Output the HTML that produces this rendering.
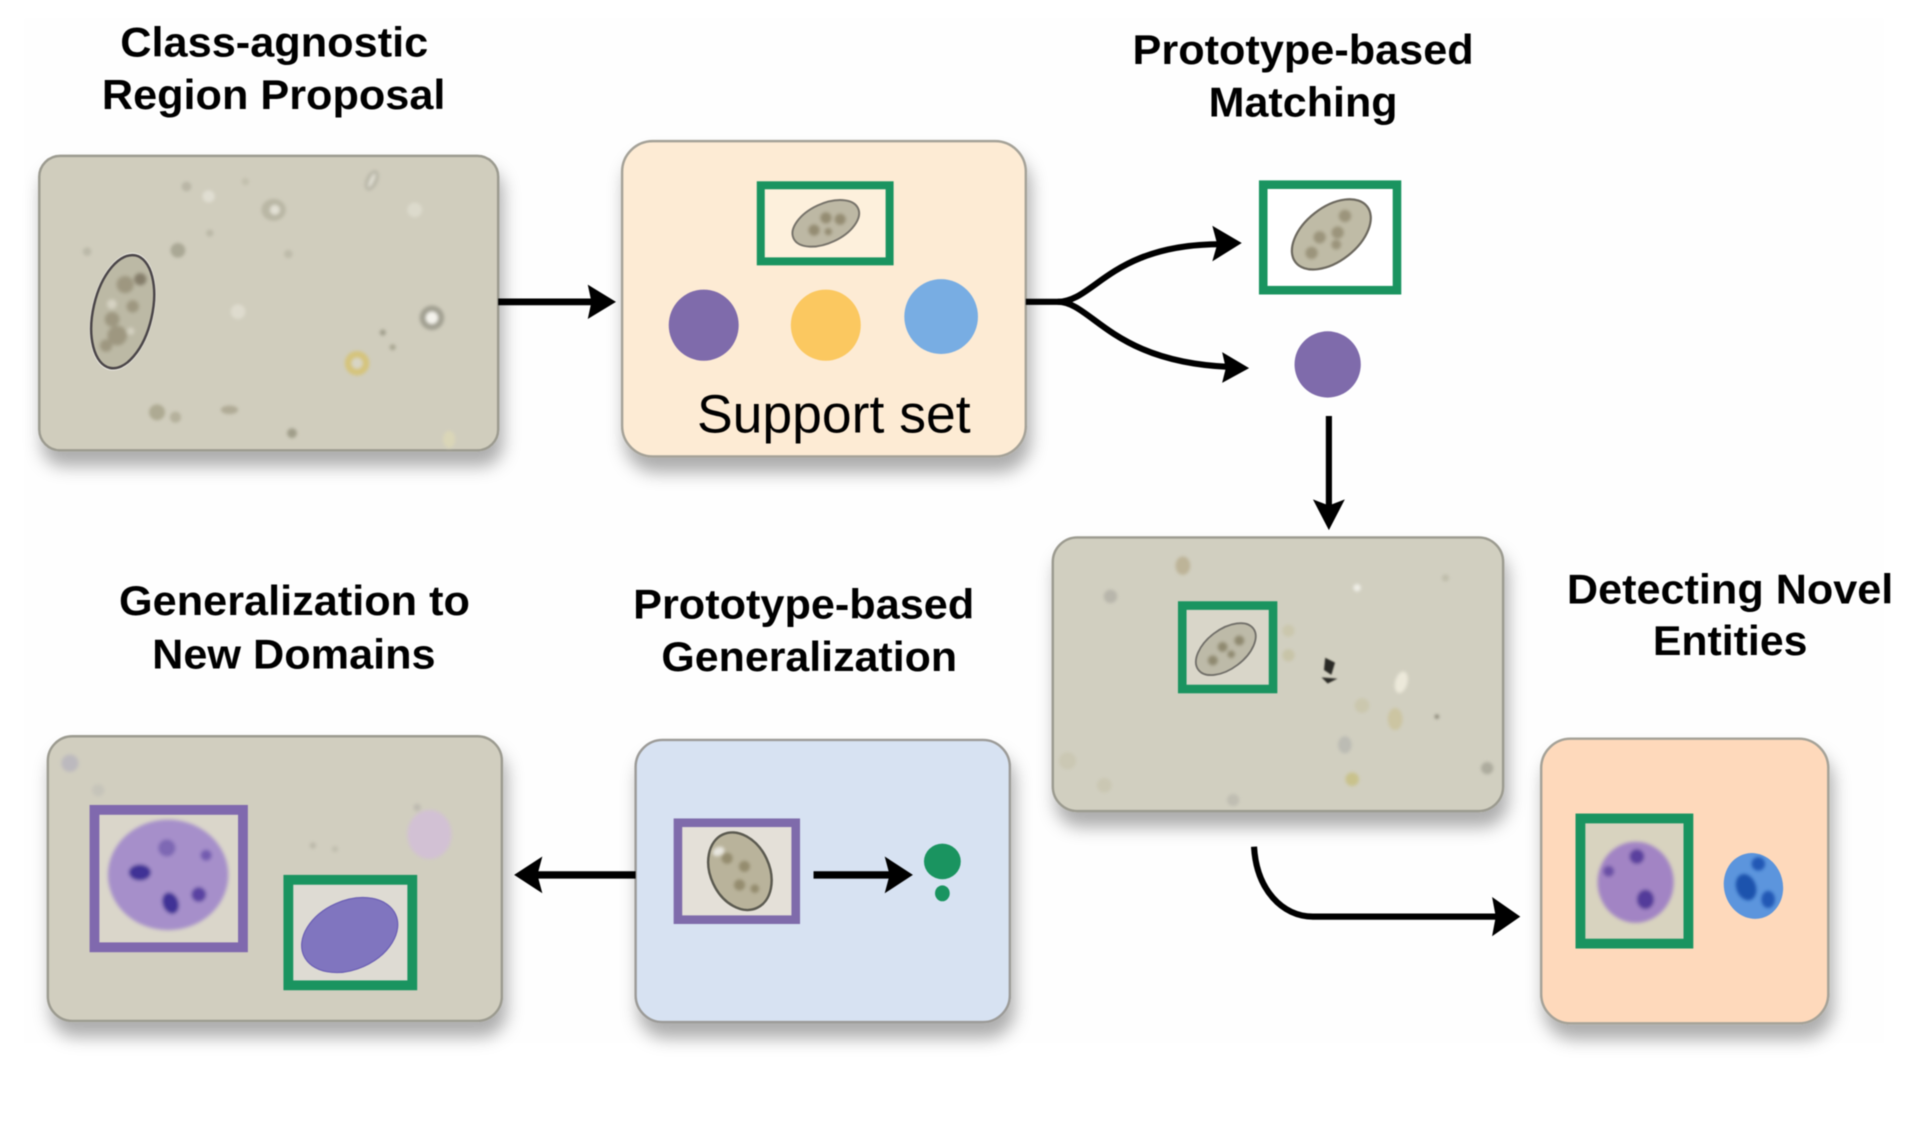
<!DOCTYPE html>
<html>
<head>
<meta charset="utf-8">
<style>
html,body{margin:0;padding:0;background:#fff;width:1924px;height:1124px;overflow:hidden}
svg{display:block;filter:blur(.5px)}
text{font-family:"Liberation Sans",sans-serif;fill:#000}
.t{font-weight:bold;font-size:34px}
</style>
</head>
<body>
<svg width="1924" height="1124" viewBox="0 0 1568 916" xmlns="http://www.w3.org/2000/svg" preserveAspectRatio="none">
<defs>
<filter id="sh" x="-10%" y="-10%" width="125%" height="125%"><feDropShadow dx="3" dy="12" stdDeviation="7" flood-color="#000" flood-opacity=".32"/></filter>
<filter id="b1" x="-50%" y="-50%" width="200%" height="200%"><feGaussianBlur stdDeviation="1.300"/></filter>
<filter id="b2" x="-50%" y="-50%" width="200%" height="200%"><feGaussianBlur stdDeviation="1.500"/></filter>
<filter id="b3" x="-50%" y="-50%" width="200%" height="200%"><feGaussianBlur stdDeviation=".6"/></filter>
</defs>
<rect width="1568" height="916" fill="#fff"/>
<rect x="20" y="15" width="1515" height="835" fill="#fefefe"/>

<!-- Titles -->
<g class="t">
<text class="t" x="98" y="46" textLength="251" lengthAdjust="spacingAndGlyphs">Class-agnostic</text>
<text class="t" x="83" y="89" textLength="280" lengthAdjust="spacingAndGlyphs">Region Proposal</text>
<text class="t" x="923" y="52" textLength="278" lengthAdjust="spacingAndGlyphs">Prototype-based</text>
<text class="t" x="985" y="95" textLength="154" lengthAdjust="spacingAndGlyphs">Matching</text>
<text class="t" x="97" y="501" textLength="286" lengthAdjust="spacingAndGlyphs">Generalization to</text>
<text class="t" x="124" y="545" textLength="231" lengthAdjust="spacingAndGlyphs">New Domains</text>
<text class="t" x="516" y="504" textLength="278" lengthAdjust="spacingAndGlyphs">Prototype-based</text>
<text class="t" x="539" y="547" textLength="241" lengthAdjust="spacingAndGlyphs">Generalization</text>
<text class="t" x="1277" y="492" textLength="266" lengthAdjust="spacingAndGlyphs">Detecting Novel</text>
<text class="t" x="1347" y="534" textLength="126" lengthAdjust="spacingAndGlyphs">Entities</text>
</g>

<!-- Panel 1 -->
<rect x="32" y="127" width="374" height="240" rx="17" fill="#d0cdbd" stroke="#9c9b90" stroke-width="2" filter="url(#sh)"/>
<g filter="url(#b1)">
<circle cx="145" cy="204" r="6" fill="#aaa895"/>
<ellipse cx="223" cy="171" rx="10" ry="9" fill="#bab7a5"/><circle cx="224" cy="171" r="4" fill="#e2e0d4"/>
<circle cx="352" cy="259" r="10" fill="#a3a193"/><circle cx="352" cy="259" r="5" fill="#f4f3ec"/>
<circle cx="291" cy="296" r="10" fill="#d5c47d"/><circle cx="291" cy="296" r="4.500" fill="#d8d5c4"/>
<ellipse cx="303" cy="147" rx="5" ry="9" transform="rotate(25 303 147)" fill="#bbb9aa"/>
<ellipse cx="303" cy="147" rx="1.500" ry="6" transform="rotate(25 303 147)" fill="#e3e1d6"/>
<circle cx="128" cy="336" r="6.500" fill="#aeaa93"/><circle cx="143" cy="340" r="4.500" fill="#b5b19c"/>
<ellipse cx="187" cy="334" rx="7" ry="3.500" fill="#b0ab96"/>
<circle cx="238" cy="353" r="4" fill="#a09e8a"/><ellipse cx="366" cy="358" rx="5" ry="7" fill="#dad6b8"/>
<circle cx="171" cy="190" r="3" fill="#bcb9a8"/><circle cx="152" cy="152" r="4" fill="#b9b6a6"/>
<circle cx="71" cy="205" r="3.500" fill="#bbb9a9"/><circle cx="194" cy="254" r="6" fill="#dedbce"/>
<circle cx="312" cy="271" r="2.500" fill="#a09e8c"/><circle cx="320" cy="283" r="2.500" fill="#a8a692"/>
<circle cx="235" cy="207" r="3.500" fill="#bebbaa"/><circle cx="338" cy="171" r="6" fill="#dcdacc"/>
<circle cx="170" cy="160" r="5" fill="#e0ded2"/><circle cx="200" cy="148" r="3" fill="#c3c0ae"/>
</g>
<g transform="rotate(13 100 254)">
<ellipse cx="100" cy="254" rx="25.500" ry="49" fill="#e8e6de"/>
<ellipse cx="100" cy="254" rx="24" ry="47" fill="#bcb9a5" stroke="#4a4548" stroke-width="2"/>
<g filter="url(#b2)" fill="#99927a" opacity=".85">
<circle cx="108" cy="225" r="5" fill="#7b7360"/><circle cx="97" cy="232" r="7"/><circle cx="107" cy="248" r="5"/><circle cx="90" cy="250" r="4" fill="#dad7c8"/><circle cx="93" cy="262" r="6"/><circle cx="100" cy="274" r="8"/><circle cx="110" cy="268" r="3" fill="#d8d5c6"/><circle cx="93" cy="284" r="5"/>
</g>
</g>

<!-- Panel 2 -->
<rect x="507" y="115" width="329" height="257" rx="25" fill="#fdebd4" stroke="#a5a298" stroke-width="2" filter="url(#sh)"/>
<rect x="620" y="151" width="105" height="62" fill="#fdf0dc" stroke="#1a9460" stroke-width="6.500"/>
<g transform="rotate(-25 673 182)">
<ellipse cx="673" cy="182" rx="29" ry="16" fill="#bdb8a4" stroke="#77736a" stroke-width="1.600"/>
<g filter="url(#b1)" fill="#948c72"><circle cx="662" cy="183" r="4.500"/><circle cx="675" cy="178" r="4.500"/><circle cx="685" cy="184" r="4.500"/><circle cx="672" cy="189" r="3"/></g>
</g>
<ellipse cx="573.500" cy="265" rx="28.500" ry="29" fill="#7f6bab"/>
<ellipse cx="673" cy="265" rx="28.500" ry="29" fill="#fbc860"/>
<ellipse cx="767" cy="258" rx="30" ry="30.500" fill="#78ade3"/>
<text x="568" y="352.500" font-size="44" textLength="223" lengthAdjust="spacingAndGlyphs">Support set</text>

<!-- Arrow 1 -->
<path d="M406 246H485" stroke="#000" stroke-width="5.500" fill="none"/>
<path d="M502 246L479 232L482 246L479 260Z" fill="#000"/>

<!-- Fork -->
<path d="M836 246H862C892 246 905 199 995 199" stroke="#000" stroke-width="5" fill="none"/>
<path d="M1012 198L988 184L992 199L988 213Z" fill="#000"/>
<path d="M862 246C890 246 905 295 1002 299" stroke="#000" stroke-width="5" fill="none"/>
<path d="M1018 300L996 287L999 300L996 312Z" fill="#000"/>

<!-- Top right result -->
<rect x="1029.500" y="150.500" width="109" height="86" fill="#fff" stroke="#1a9460" stroke-width="7"/>
<g transform="rotate(-38 1085 191)">
<ellipse cx="1085" cy="191" rx="37" ry="22" fill="#bfbba6" stroke="#6d695f" stroke-width="1.800"/>
<g filter="url(#b1)" fill="#9b947b"><circle cx="1063" cy="193" r="5"/><circle cx="1076" cy="187" r="5"/><circle cx="1090" cy="193" r="5"/><circle cx="1103" cy="186" r="5"/><circle cx="1083" cy="200" r="4"/></g>
</g>
<circle cx="1082" cy="297" r="27" fill="#7f6bab"/>

<!-- Down arrow -->
<path d="M1083 339V418" stroke="#000" stroke-width="5" fill="none"/>
<path d="M1083 432L1070 407L1083 412L1096 407Z" fill="#000"/>

<!-- Panel 3 -->
<rect x="858" y="438" width="367" height="223" rx="20" fill="#d1cfc0" stroke="#9c9b90" stroke-width="2" filter="url(#sh)"/>
<g filter="url(#b1)">
<ellipse cx="964" cy="461" rx="6" ry="7.500" fill="#bdb498"/><circle cx="905" cy="486" r="5.500" fill="#b8b6ab"/>
<circle cx="1106" cy="479" r="3" fill="#f0efe8"/><circle cx="1178" cy="471" r="3" fill="#c0beac"/>
<ellipse cx="1142" cy="556" rx="5" ry="9" transform="rotate(15 1142 556)" fill="#ece9da"/>
<ellipse cx="1137" cy="586" rx="6" ry="9" fill="#ccc5a2"/>
<ellipse cx="1096" cy="607" rx="5.500" ry="7" fill="#bcbcb4"/><circle cx="1102" cy="635" r="5.500" fill="#c9c28c"/>
<circle cx="1212" cy="626" r="5" fill="#adac9e"/><circle cx="1005" cy="652" r="5" fill="#c0beb2"/>
<circle cx="1171" cy="584" r="1.500" fill="#6e6b5c"/><circle cx="1050" cy="534" r="5" fill="#c8c4a8"/><circle cx="1050" cy="514" r="5" fill="#cbc7ad"/>
<circle cx="1110" cy="575" r="6" fill="#cbc7ae"/><circle cx="870" cy="620" r="7" fill="#cbc8b4"/><circle cx="900" cy="640" r="6" fill="#cac7b3"/>
</g>
<g filter="url(#b3)"><path d="M1080 536L1088 540L1085 550L1079 546Z" fill="#2c2a25"/><path d="M1077 552L1090 553L1082 557Z" fill="#2c2a25"/></g>
<rect x="963.500" y="493.500" width="74" height="68" fill="#d9d6c9" stroke="#1a9460" stroke-width="7"/>
<g transform="rotate(-37 999 529)">
<ellipse cx="999" cy="529" rx="28" ry="16" fill="#bdbaa8" stroke="#72706a" stroke-width="1.500"/>
<g filter="url(#b1)" fill="#8f8970"><circle cx="985" cy="530" r="4"/><circle cx="998" cy="526" r="4"/><circle cx="1012" cy="530" r="4"/><circle cx="1000" cy="535" r="3"/></g>
</g>

<!-- Curved arrow -->
<path d="M1022 690C1024 725 1045 747 1070 747H1222" stroke="#000" stroke-width="5" fill="none"/>
<path d="M1239 747L1216 731L1219 747L1216 763Z" fill="#000"/>

<!-- Panel 4 -->
<rect x="1256" y="602" width="234" height="232" rx="24" fill="#fed9bb" stroke="#a5a298" stroke-width="2" filter="url(#sh)"/>
<rect x="1288" y="667" width="88" height="102" fill="#d8d3bf" stroke="#1a9460" stroke-width="8"/>
<g filter="url(#b2)">
<ellipse cx="1333" cy="719" rx="31" ry="33" fill="#a284c4"/>
<circle cx="1334" cy="698" r="6" fill="#5a3f9e"/><circle cx="1311" cy="710" r="4.500" fill="#6b50a6"/><ellipse cx="1341" cy="733" rx="7" ry="8" fill="#533a9a"/>
</g>
<ellipse cx="1429" cy="722" rx="24" ry="27" fill="#5c95dd" transform="rotate(-15 1429 722)"/>
<g filter="url(#b1)">
<ellipse cx="1423" cy="723" rx="8" ry="11" fill="#1f52ad" transform="rotate(-20 1423 723)"/>
<circle cx="1433" cy="704" r="5.500" fill="#2359b5"/><ellipse cx="1441" cy="733" rx="5.500" ry="7" fill="#2359b5"/>
</g>

<!-- Panel 5 -->
<rect x="518" y="603" width="305" height="230" rx="22" fill="#d7e2f2" stroke="#9c9b98" stroke-width="2" filter="url(#sh)"/>
<rect x="552.500" y="670.500" width="96" height="79" fill="#e4e0d8" stroke="#7f6bab" stroke-width="7"/>
<g transform="rotate(-25 603 710)">
<ellipse cx="603" cy="710" rx="24" ry="33" fill="#b9b39b" stroke="#5b5a50" stroke-width="2"/>
<g filter="url(#b1)" fill="#948c6e"><circle cx="598" cy="696" r="4.500"/><circle cx="608" cy="708" r="4.500"/><circle cx="598" cy="720" r="4.500"/><circle cx="608" cy="728" r="3.500"/></g>
<ellipse cx="594" cy="688" rx="5" ry="3.500" fill="#e8e6df" filter="url(#b1)"/>
</g>
<path d="M663 713H730" stroke="#000" stroke-width="6" fill="none"/>
<path d="M744 713L721 698L725 713L721 728Z" fill="#000"/>
<ellipse cx="768" cy="702" rx="15" ry="14.500" fill="#1a9460"/>
<ellipse cx="768" cy="728" rx="6" ry="6.500" fill="#1a9460"/>

<!-- Left arrow -->
<path d="M518 713H433" stroke="#000" stroke-width="6" fill="none"/>
<path d="M419 713L442 698L438 713L442 728Z" fill="#000"/>

<!-- Panel 6 -->
<rect x="39" y="600" width="370" height="232" rx="20" fill="#d1cebf" stroke="#9c9b90" stroke-width="2" filter="url(#sh)"/>
<g filter="url(#b2)">
<circle cx="57" cy="622" r="7" fill="#bcb9be"/><circle cx="80" cy="644" r="5" fill="#c6c4ba"/>
<ellipse cx="350" cy="680" rx="18" ry="20" fill="#d2c1d4"/>
<circle cx="255" cy="689" r="2.500" fill="#bab7a8"/><circle cx="273" cy="692" r="2.500" fill="#c0bdae"/>
<circle cx="340" cy="658" r="3" fill="#bdbab0"/>
</g>
<rect x="77" y="660" width="121" height="112" fill="#dad6ca" stroke="#8069ae" stroke-width="8"/>
<g filter="url(#b2)">
<ellipse cx="137" cy="713" rx="49" ry="45" fill="#a68fca"/>
<ellipse cx="114" cy="711" rx="9" ry="6.500" fill="#3f3196"/>
<ellipse cx="139" cy="736" rx="6.500" ry="9" fill="#3f3196" transform="rotate(-20 139 736)"/>
<circle cx="162" cy="729" r="6" fill="#5a42a2"/>
<circle cx="136" cy="691" r="7" fill="#7e68b4"/><circle cx="168" cy="697" r="4.500" fill="#735bb0"/>
</g>
<rect x="235" y="717" width="101" height="86" fill="#dedbd3" stroke="#1a9460" stroke-width="8"/>
<ellipse cx="285" cy="762" rx="41" ry="28" transform="rotate(-24 285 762)" fill="#8075bf" stroke="#6b5fb4" stroke-width="1"/>
</svg>
</body>
</html>
